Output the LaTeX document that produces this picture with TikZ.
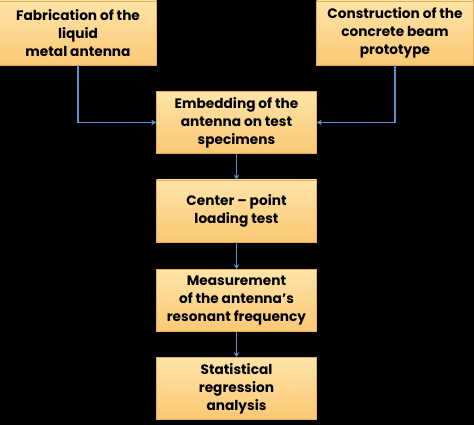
\documentclass[tikz,border=0pt]{standalone}
\usepackage{fontspec}
\setmainfont{Poppins}
\usetikzlibrary{arrows.meta}
\definecolor{boxtop}{HTML}{FEE4A8}
\definecolor{boxbot}{HTML}{FAC874}
\definecolor{boxedge}{HTML}{E9AC50}
\definecolor{flow}{HTML}{5B8FD0}
\tikzset{
  stepbox/.style={draw=boxedge,line width=0.6pt,top color=boxtop,bottom color=boxbot,
    minimum width=160pt,minimum height=62pt,align=center,inner sep=1pt,
    font=\bfseries\fontsize{13.7}{18}\selectfont},
  flowline/.style={draw=flow,line width=1.6pt,-{Stealth[length=5pt,width=5.5pt]}}
}
\begin{document}
\begin{tikzpicture}[x=1pt,y=-1pt]
  % background:
  \fill[black] (0,0) rectangle (474,425);
  \useasboundingbox (0,0) rectangle (474,425);
  % top boxes:
  \node[stepbox,minimum width=157pt,minimum height=64pt] (fab) at (78,33)
    {Fabrication of the\\liquid\\metal antenna};
  \node[stepbox,minimum width=157pt,minimum height=64pt] (con) at (395,33)
    {Construction of the\\concrete beam\\prototype};
  % main column:
  \node[stepbox] (emb) at (236.5,122.5) {Embedding of the\\antenna on test\\specimens};
  \node[stepbox] (cen) at (236.5,211) {Center -- point\\loading test};
  \node[stepbox] (mea) at (236.5,300.5) {Measurement\\of the antenna's\\resonant frequency};
  \node[stepbox] (sta) at (236.5,388.5) {Statistical\\regression\\analysis};
  % connectors:
  \draw[flowline] (fab.south) |- (emb.west);
  \draw[flowline] (con.south) |- (emb.east);
  \draw[flowline] (emb) -- (cen);
  \draw[flowline] (cen) -- (mea);
  \draw[flowline] (mea) -- (sta);
\end{tikzpicture}
\end{document}
